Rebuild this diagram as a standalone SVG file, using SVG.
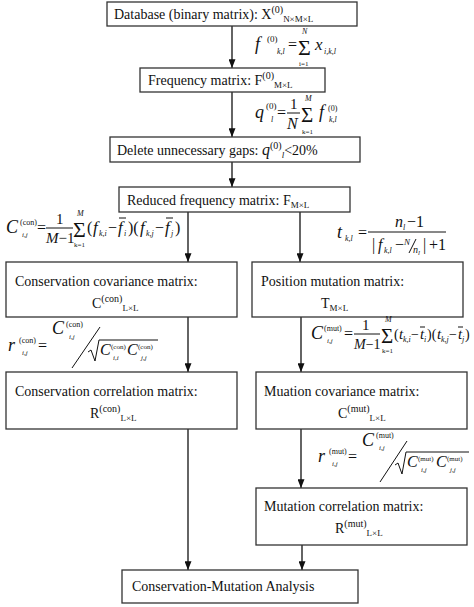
<svg xmlns="http://www.w3.org/2000/svg" width="474" height="607" viewBox="0 0 474 607">
<defs>
<marker id="ah" viewBox="0 0 10 8" refX="10" refY="4" markerWidth="9" markerHeight="7" orient="auto" markerUnits="userSpaceOnUse">
<path d="M0,0 L10,4 L0,8 z" fill="#111"/>
</marker>
<style>
.box{fill:#fff;stroke:#333;stroke-width:1.3}
.t{font-family:"Liberation Serif","Times New Roman",serif;font-size:14px;fill:#111}
.it{font-style:italic}
.s{font-size:10px}
.ss{font-size:9px}
.fm text{font-family:"Liberation Serif","Times New Roman",serif;fill:#111}
.conn line{stroke:#111;stroke-width:1.3;fill:none}
.bar{stroke:#111;stroke-width:1;fill:none}
</style>
</defs>
<rect width="474" height="607" fill="#fff"/>

<g id="connectors" class="conn">
<line x1="232" y1="26" x2="232" y2="68" marker-end="url(#ah)"/>
<line x1="232" y1="92" x2="232" y2="137" marker-end="url(#ah)"/>
<line x1="232" y1="162" x2="232" y2="187" marker-end="url(#ah)"/>
<line x1="188" y1="212" x2="188" y2="262" marker-end="url(#ah)"/>
<line x1="300" y1="212" x2="300" y2="262" marker-end="url(#ah)"/>
<line x1="188" y1="317" x2="188" y2="372" marker-end="url(#ah)"/>
<line x1="301" y1="317" x2="301" y2="372" marker-end="url(#ah)"/>
<line x1="301" y1="429" x2="301" y2="488" marker-end="url(#ah)"/>
<line x1="188" y1="429" x2="188" y2="570" marker-end="url(#ah)"/>
<line x1="302" y1="545" x2="302" y2="570" marker-end="url(#ah)"/>
</g>

<g id="n1">
<rect class="box" x="107" y="2" width="250" height="24"/>
<text class="t" x="114" y="19">Database (binary matrix): X<tspan class="s" dy="-6">(0)</tspan><tspan class="ss" dy="9">N×M×L</tspan></text>
</g>
<g id="n2">
<rect class="box" x="140" y="68" width="185" height="24"/>
<text class="t" x="148" y="85">Frequency matrix: F<tspan class="s" dy="-6">(0)</tspan><tspan class="ss" dy="9">M×L</tspan></text>
</g>
<g id="n3">
<rect class="box" x="110" y="137" width="250" height="25"/>
<text class="t" x="117" y="155">Delete unnecessary gaps: <tspan class="it" font-size="16">q</tspan><tspan class="s" dy="-6">(0)</tspan><tspan class="ss it" dy="9">l</tspan><tspan dy="-3">&lt;20%</tspan></text>
</g>
<g id="n4">
<rect class="box" x="119" y="187" width="231" height="25"/>
<text class="t" x="127" y="205">Reduced frequency matrix: F<tspan class="ss" dy="3">M×L</tspan></text>
</g>
<g id="n5">
<rect class="box" x="6" y="262" width="231" height="55"/>
<text class="t" x="15" y="286">Conservation covariance matrix:</text>
<text class="t" x="92" y="308">C<tspan class="s" dy="-6">(con)</tspan><tspan class="ss" dy="9">L×L</tspan></text>
</g>
<g id="n6">
<rect class="box" x="252" y="262" width="211" height="55"/>
<text class="t" x="261" y="286">Position mutation matrix:</text>
<text class="t" x="321" y="308">T<tspan class="ss" dy="3">M×L</tspan></text>
</g>
<g id="n7">
<rect class="box" x="6" y="372" width="231" height="57"/>
<text class="t" x="15" y="396">Conservation correlation matrix:</text>
<text class="t" x="90" y="418">R<tspan class="s" dy="-6">(con)</tspan><tspan class="ss" dy="9">L×L</tspan></text>
</g>
<g id="n8">
<rect class="box" x="256" y="372" width="211" height="57"/>
<text class="t" x="264" y="396">Muation covariance matrix:</text>
<text class="t" x="338" y="418">C<tspan class="s" dy="-6">(mut)</tspan><tspan class="ss" dy="9">L×L</tspan></text>
</g>
<g id="n9">
<rect class="box" x="256" y="488" width="211" height="57"/>
<text class="t" x="264" y="511">Mutation correlation matrix:</text>
<text class="t" x="335" y="533">R<tspan class="s" dy="-6">(mut)</tspan><tspan class="ss" dy="9">L×L</tspan></text>
</g>
<g id="n10">
<rect class="box" x="122" y="570" width="236" height="33"/>
<text class="t" x="132" y="591">Conservation-Mutation Analysis</text>
</g>

<g id="f1" class="fm">
<text x="255" y="50" font-size="18" class="it">f</text>
<text x="267" y="42" font-size="9">(0)</text>
<text x="277" y="54" font-size="8" class="it">k,l</text>
<text x="288" y="50" font-size="16">=</text>
<text x="298" y="55" font-size="22">Σ</text>
<text x="302" y="34" font-size="8" class="it">N</text>
<text x="299" y="66" font-size="7">i=1</text>
<text x="315" y="50" font-size="17" class="it">x</text>
<text x="324" y="54" font-size="8" class="it">i,k,l</text>
</g>

<g id="f2" class="fm">
<text x="255" y="118" font-size="18" class="it">q</text>
<text x="266" y="109" font-size="9">(0)</text>
<text x="271" y="122" font-size="8" class="it">l</text>
<text x="277" y="118" font-size="16">=</text>
<text x="290" y="109" font-size="15">1</text>
<line class="bar" x1="287" y1="113" x2="300" y2="113"/>
<text x="287" y="129" font-size="16" class="it">N</text>
<text x="301" y="122" font-size="21">Σ</text>
<text x="305" y="101" font-size="8" class="it">M</text>
<text x="302" y="134" font-size="7">k=1</text>
<text x="319" y="118" font-size="18" class="it">f</text>
<text x="328" y="111" font-size="8">(0)</text>
<text x="329" y="122" font-size="8" class="it">k,l</text>
</g>

<g id="f3" class="fm">
<text x="6" y="233" font-size="18" class="it">C</text>
<text x="20" y="225" font-size="8">(con)</text>
<text x="22" y="237" font-size="7" class="it">i,j</text>
<text x="37" y="233" font-size="16">=</text>
<text x="56" y="224" font-size="15">1</text>
<line class="bar" x1="46" y1="228" x2="73" y2="228"/>
<text x="46" y="243" font-size="15" class="it">M<tspan font-style="normal">−1</tspan></text>
<text x="73" y="237" font-size="22">Σ</text>
<text x="77" y="216" font-size="8" class="it">M</text>
<text x="74" y="247" font-size="7">k=1</text>
<text x="87" y="233" font-size="16">(</text>
<text x="93" y="233" font-size="17" class="it">f</text>
<text x="99" y="236" font-size="8" class="it">k,i</text>
<text x="108" y="233" font-size="16">−</text>
<text x="118" y="233" font-size="17" class="it">f</text>
<line class="bar" x1="119" y1="218" x2="126" y2="218"/>
<text x="124" y="236" font-size="8" class="it">i</text>
<text x="128" y="233" font-size="16">)(</text>
<text x="140" y="233" font-size="17" class="it">f</text>
<text x="146" y="236" font-size="8" class="it">k,j</text>
<text x="155" y="233" font-size="16">−</text>
<text x="165" y="233" font-size="17" class="it">f</text>
<line class="bar" x1="166" y1="218" x2="173" y2="218"/>
<text x="171" y="236" font-size="8" class="it">j</text>
<text x="175" y="233" font-size="16">)</text>
</g>

<g id="f4" class="fm">
<text x="337" y="238" font-size="18" class="it">t</text>
<text x="345" y="241" font-size="8" class="it">k,l</text>
<text x="358" y="238" font-size="16">=</text>
<text x="395" y="227" font-size="16" class="it">n</text>
<text x="403" y="230" font-size="8" class="it">l</text>
<text x="407" y="227" font-size="16">−1</text>
<line class="bar" x1="368" y1="232" x2="446" y2="232"/>
<text x="372" y="250" font-size="16">|</text>
<text x="378" y="250" font-size="16" class="it">f</text>
<text x="384" y="253" font-size="8" class="it">k,l</text>
<text x="395" y="250" font-size="16">−</text>
<text x="404" y="245" font-size="9" class="it">N</text>
<line class="bar" x1="409" y1="253" x2="416" y2="239"/>
<text x="413" y="253" font-size="10" class="it">n</text>
<text x="418" y="255" font-size="7" class="it">l</text>
<text x="423" y="250" font-size="16">|</text>
<text x="429" y="250" font-size="16">+1</text>
</g>

<g id="f5" class="fm">
<text x="8" y="351" font-size="18" class="it">r</text>
<text x="19" y="343" font-size="8">(con)</text>
<text x="22" y="355" font-size="7" class="it">i,j</text>
<text x="38" y="351" font-size="16">=</text>
<text x="52" y="334" font-size="18" class="it">C</text>
<text x="66" y="327" font-size="8">(con)</text>
<text x="69" y="339" font-size="7" class="it">i,j</text>
<line class="bar" x1="72" y1="368" x2="100" y2="327"/>
<path class="bar" d="M88,352 L91,350 L95,361 L99,340 L158,340"/>
<text x="100" y="355" font-size="16" class="it">C</text>
<text x="111" y="349" font-size="7">(con)</text>
<text x="113" y="360" font-size="7" class="it">i,i</text>
<text x="127" y="355" font-size="16" class="it">C</text>
<text x="138" y="349" font-size="7">(con)</text>
<text x="141" y="360" font-size="7" class="it">j,j</text>
</g>

<g id="f6" class="fm">
<text x="311" y="339" font-size="18" class="it">C</text>
<text x="324" y="331" font-size="8">(mut)</text>
<text x="327" y="343" font-size="7" class="it">i,j</text>
<text x="344" y="339" font-size="16">=</text>
<text x="362" y="330" font-size="15">1</text>
<line class="bar" x1="354" y1="334" x2="380" y2="334"/>
<text x="354" y="349" font-size="14" class="it">M<tspan font-style="normal">−1</tspan></text>
<text x="381" y="343" font-size="21">Σ</text>
<text x="385" y="322" font-size="8" class="it">M</text>
<text x="382" y="353" font-size="7">k=1</text>
<text x="394" y="339" font-size="14">(</text>
<text x="399" y="339" font-size="15" class="it">t</text>
<text x="403" y="342" font-size="8" class="it">k,i</text>
<text x="411" y="339" font-size="14">−</text>
<text x="420" y="339" font-size="15" class="it">t</text>
<line class="bar" x1="420" y1="327" x2="425" y2="327"/>
<text x="424" y="342" font-size="8" class="it">i</text>
<text x="427" y="339" font-size="14">)(</text>
<text x="437" y="339" font-size="15" class="it">t</text>
<text x="441" y="342" font-size="8" class="it">k,j</text>
<text x="449" y="339" font-size="14">−</text>
<text x="458" y="339" font-size="15" class="it">t</text>
<line class="bar" x1="458" y1="327" x2="463" y2="327"/>
<text x="462" y="342" font-size="8" class="it">j</text>
<text x="465" y="339" font-size="14">)</text>
</g>

<g id="f7" class="fm">
<text x="318" y="462" font-size="18" class="it">r</text>
<text x="329" y="454" font-size="8">(mut)</text>
<text x="332" y="466" font-size="7" class="it">i,j</text>
<text x="348" y="462" font-size="16">=</text>
<text x="362" y="446" font-size="18" class="it">C</text>
<text x="376" y="438" font-size="8">(mut)</text>
<text x="379" y="450" font-size="7" class="it">i,j</text>
<line class="bar" x1="380" y1="482" x2="407" y2="441"/>
<path class="bar" d="M395,465 L398,463 L402,474 L406,452 L469,452"/>
<text x="407" y="467" font-size="16" class="it">C</text>
<text x="418" y="461" font-size="7">(mut)</text>
<text x="421" y="472" font-size="7" class="it">i,j</text>
<text x="436" y="467" font-size="16" class="it">C</text>
<text x="447" y="461" font-size="7">(mut)</text>
<text x="450" y="472" font-size="7" class="it">j,j</text>
</g>
</svg>
